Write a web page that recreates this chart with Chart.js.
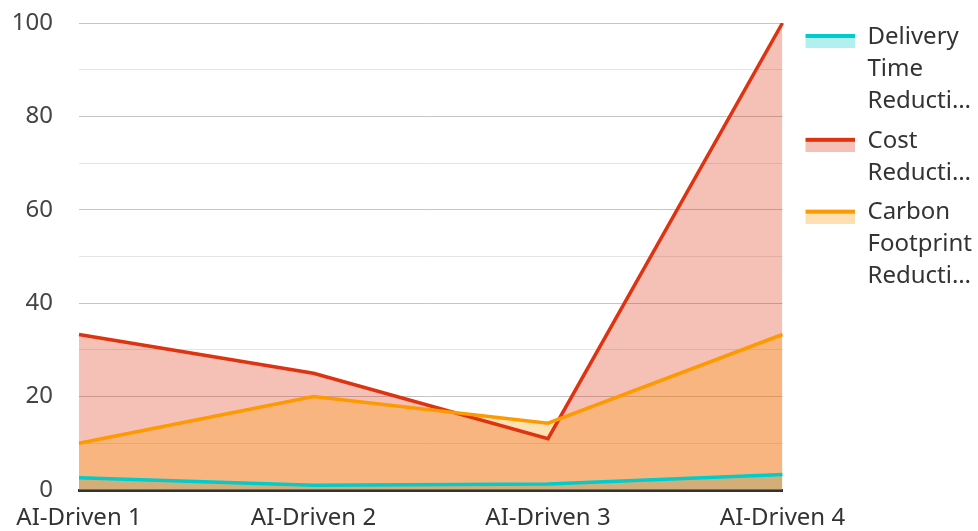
<!DOCTYPE html>
<html>
<head>
<meta charset="utf-8">
<script src="https://cdn.jsdelivr.net/npm/chart.js@4"></script>
<style>
  html, body { margin: 0; padding: 0; background: #fff; }
  #wrap { width: 978px; height: 531px; }
</style>
</head>
<body>
<div id="wrap"><canvas id="myChart" width="978" height="531"></canvas></div>
<script>
const categories = ['AI-Driven 1', 'AI-Driven 2', 'AI-Driven 3', 'AI-Driven 4'];
const deliveryTime = [2.6, 1.0, 1.3, 3.3];
const costReduction = [33.3, 25, 11, 100];
const carbonFootprint = [10, 20, 14.3, 33.3];
const seriesNames = [
    ['Delivery', 'Time', 'Reducti…'],
    ['Cost', 'Reducti…'],
    ['Carbon', 'Footprint', 'Reducti…']
];
const lineColors = ['#00cccc', '#dd3311', '#ff9900'];
const fillColors = ['rgba(0,204,204,0.3)', 'rgba(221,51,17,0.3)', 'rgba(255,153,0,0.3)'];

// legend icon: thick line on top, fill below (left part left blank as a gap)
function legendIcon(line, fill) {
    const c = document.createElement('canvas');
    c.width = 65;
    c.height = 22;
    const g = c.getContext('2d');
    g.fillStyle = fill;
    g.fillRect(15, 8, 50, 14);
    g.fillStyle = line;
    g.fillRect(15, 8, 50, 4);
    return c;
}

const ctx = document.getElementById('myChart');
const font = { family: "'Noto Sans', 'Open Sans', sans-serif", size: 24 };

new Chart(ctx, {
    type: 'line',
    data: {
        labels: categories,
        datasets: [
            { label: seriesNames[0], data: deliveryTime, order: 2 },
            { label: seriesNames[1], data: costReduction, order: 1 },
            { label: seriesNames[2], data: carbonFootprint, order: 0 }
        ].map((d, i) => Object.assign(d, {
            borderColor: lineColors[i],
            backgroundColor: fillColors[i],
            borderWidth: 3.5,
            fill: 'origin',
            tension: 0,
            pointRadius: 0
        }))
    },
    options: {
        responsive: false,
        animation: false,
        layout: { padding: { left: 12, top: 17, right: -4, bottom: 0 } },
        scales: {
            x: {
                grid: { display: false, drawTicks: false },
                border: { color: '#333', width: 3 },
                ticks: { color: '#333', font: font, padding: 14, maxRotation: 0 },
                afterFit: (s) => { s.height = 41; }
            },
            y: {
                min: 0,
                max: 100,
                border: { display: false },
                grid: {
                    drawTicks: false,
                    color: (c) => c.tick && c.tick.value % 20 === 0 ? '#c4c4c4' : '#e4e4e4',
                    lineWidth: 1
                },
                ticks: {
                    stepSize: 10,
                    color: '#444',
                    font: font,
                    padding: 26,
                    callback: (v) => v % 20 === 0 ? v : ''
                },
                afterFit: (s) => {
                    s.width = 67;
                    s.paddingTop = 23;
                    s.paddingBottom = 0;
                }
            }
        },
        plugins: {
            filler: { drawTime: 'beforeDatasetsDraw' },
            tooltip: { enabled: false },
            legend: {
                position: 'right',
                align: 'start',
                labels: {
                    color: '#333',
                    font: Object.assign({ lineHeight: 1.33 }, font),
                    usePointStyle: true,
                    pointStyleWidth: 65,
                    padding: 8,
                    sort: (a, b) => a.datasetIndex - b.datasetIndex,
                    generateLabels: (chart) => {
                        const items = Chart.defaults.plugins.legend.labels.generateLabels(chart);
                        items.forEach((it) => {
                            const i = it.datasetIndex;
                            it.pointStyle = legendIcon(lineColors[i], fillColors[i]);
                            it.fontColor = '#333';
                        });
                        return items;
                    }
                }
            }
        }
    }
});
</script>
</body>
</html>
